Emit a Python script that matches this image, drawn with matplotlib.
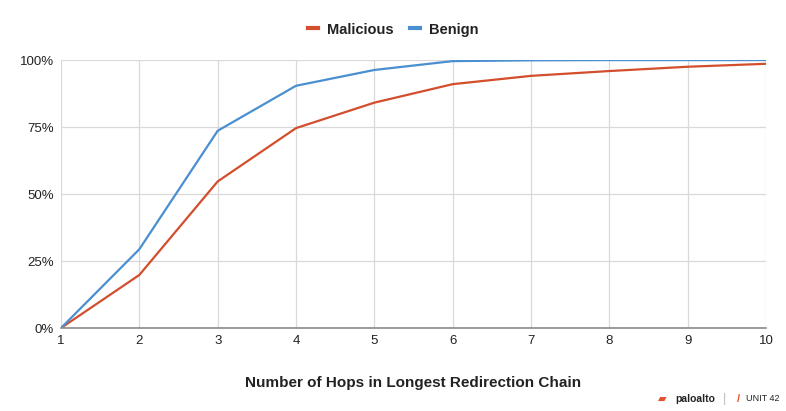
import matplotlib.pyplot as plt

plt.rcParams['font.family'] = ['Liberation Sans', 'DejaVu Sans']

# Données (part cumulée, en %)
hops = [1, 2, 3, 4, 5, 6, 7, 8, 9, 10]
malicious = [0, 19.8, 54.7, 74.6, 84.1, 91.0, 94.1, 95.9, 97.5, 98.6]
benign = [0, 29.4, 73.6, 90.4, 96.3, 99.6, 99.9, 100, 100, 100]
y_ticks = [0, 25, 50, 75, 100]
y_labels = ['0%', '25%', '50%', '75%', '100%']

red = '#d24e2d'
blue = '#4a8fd0'

fig = plt.figure(figsize=(7.86, 4.11), dpi=100)
ax = fig.add_axes([0.0776, 0.2019, 0.897, 0.652])

ax.plot(hops, malicious, color=red, lw=1.6, label='Malicious')
ax.plot(hops, benign, color=blue, lw=1.6, label='Benign')

ax.set_xlim(1, 10)
ax.set_ylim(0, 100)
ax.set_xticks(hops)
ax.set_yticks(y_ticks)
ax.set_yticklabels(y_labels)
ax.tick_params(length=0, labelsize=9.5, colors='#222222', pad=5)
ax.grid(True, color='#d9d9d9', lw=0.9)
ax.set_axisbelow(True)
for s in ['top', 'right', 'left']:
    ax.spines[s].set_visible(False)
ax.spines['bottom'].set_color('#8a8a8a')
ax.spines['bottom'].set_linewidth(1.2)

ax.set_xlabel('Number of Hops in Longest Redirection Chain', fontsize=11,
              fontweight='bold', color='#222222', labelpad=21)

leg = fig.legend(loc='center', bbox_to_anchor=(0.5, 0.928), ncol=2, frameon=False,
                 prop={'weight': 'bold', 'size': 10.5}, handlelength=0.7,
                 handletextpad=0.6, columnspacing=1.1)
for h in leg.get_lines():
    h.set_linewidth(3)
for t in leg.get_texts():
    t.set_color('#222222')

# Logos (approximation en texte)
ly = 0.03
fig.text(0.843, ly, '\u25B0', fontsize=8, color='#e5532d', ha='center', va='center')
fig.text(0.885, ly, 'paloalto', fontsize=7.5, fontweight='bold', color='#222222',
         ha='center', va='center')
fig.text(0.922, ly, '|', fontsize=9, color='#bbbbbb', ha='center', va='center')
fig.text(0.94, ly, '/', fontsize=8, fontweight='bold', color='#e5532d',
         ha='center', va='center')
fig.text(0.97, ly, 'UNIT 42', fontsize=6.5, color='#222222', ha='center', va='center')

fig.savefig('out.png', dpi=100)
